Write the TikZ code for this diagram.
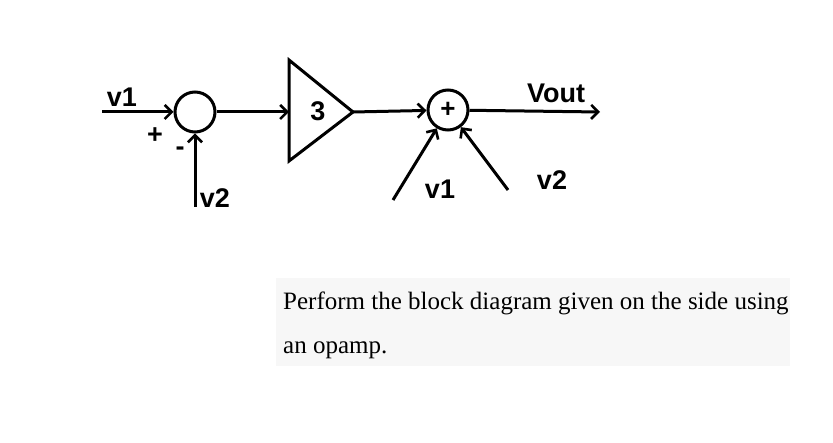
\documentclass[tikz,border=0pt]{standalone}
\usepackage{fontspec}
\setmainfont{Liberation Serif}
\newfontfamily\lblfont{Liberation Sans}
\usepackage{tikz}
\usetikzlibrary{arrows.meta}

\begin{document}
\begin{tikzpicture}[x=1pt,y=-1pt,
    sig/.style={draw, line width=3pt, -{Straight Barb[length=7pt,width=14pt,line width=2.6pt]}},
    sum/.style={draw, circle, line width=3pt, minimum size=40pt, inner sep=0pt},
    lbl/.style={font=\lblfont\bfseries\fontsize{27}{27}\selectfont, inner sep=0pt}]
    \useasboundingbox (0,0) rectangle (833,443);
    % blocks
    \node[sum] (s1) at (195,112) {};
    \node[sum, font=\lblfont\bfseries\fontsize{26}{26}\selectfont] (s2) at (448,110) {+};
    \draw[line width=3pt, line join=miter] (289,60) -- (353,112) -- (289,161) -- cycle;
    \coordinate (gin) at (289,112);
    \coordinate (gout) at (353,112);
    \node[lbl] (g) at (318,111) {3};
    % free ends
    \coordinate (in1) at (102,112);
    \coordinate (in2) at (195,207);
    \coordinate (in3) at (393,200);
    \coordinate (in4) at (508,190);
    \coordinate (out) at (600,112);
    % connectors
    \path[sig] (in1) -- (s1);
    \path[sig] (in2) -- (s1);
    \path[sig] (s1) -- (gin);
    \path[sig] (gout) -- (s2);
    \path[sig] (in3) -- (s2);
    \path[sig] (in4) -- (s2);
    \path[sig] (s2) -- (out);
    % labels
    \node[lbl] (l1) at (122,97) {v1};
    \node[lbl] (pl) at (155,136) {+};
    \node[lbl] (mi) at (180,151) {-};
    \node[lbl] (l2) at (215,198) {v2};
    \node[lbl] (l3) at (440,189) {v1};
    \node[lbl] (l4) at (552,180) {v2};
    \node[lbl] (lo) at (556,93) {Vout};
    % text
    \fill[black!3] (276,278) rectangle (790,366);
    \node[anchor=base west, inner sep=0pt, font=\fontsize{25}{40}\selectfont] (t1) at (283,310) {Perform the block diagram given on the side using};
    \node[anchor=base west, inner sep=0pt, font=\fontsize{25}{40}\selectfont] (t2) at (283,354) {an opamp.};
\end{tikzpicture}
\end{document}
